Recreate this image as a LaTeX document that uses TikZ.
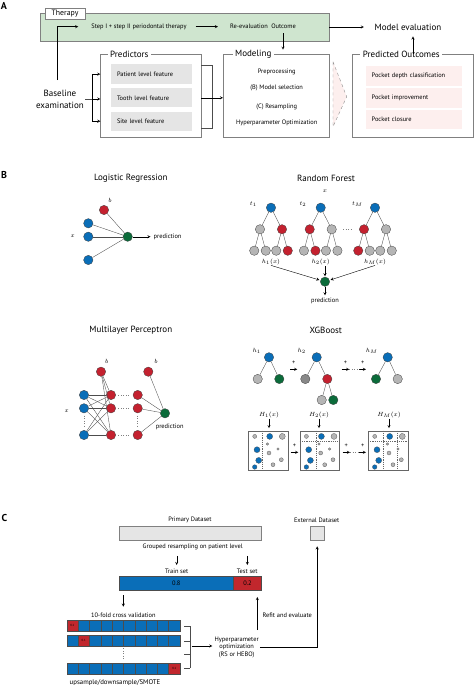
\documentclass[tikz,border=0pt]{standalone}
\usepackage{amsmath}
\usepackage{fontspec}
\setmainfont{PT Sans}
\usepackage{xcolor}
\usepackage{tikz}
\usetikzlibrary{arrows, positioning, fit}
\definecolor{nodeblue}{HTML}{0A6EB8}
\definecolor{nodered}{HTML}{C4212F}
\definecolor{nodegreen}{HTML}{0B6B3A}
\definecolor{nodegray}{HTML}{B5B5B5}
\definecolor{bandgreen}{HTML}{CFE5CF}
\definecolor{featgray}{HTML}{E5E5E5}
\definecolor{outpink}{HTML}{FDEFEE}
\definecolor{linegray}{HTML}{808080}
\definecolor{barblue}{HTML}{0A6EB8}
\definecolor{barred}{HTML}{C1272D}
\newcommand{\fsl}{\fontsize{9}{10}\selectfont}
\newcommand{\fss}{\fontsize{6.4}{7.8}\selectfont}
\newcommand{\fsm}{\fontsize{5.6}{6}\selectfont}
\newcommand{\fst}{\fontsize{3}{3}\selectfont}
\tikzstyle{panel}     = [font=\bfseries\fontsize{10}{10}\selectfont, inner sep=0pt]
\tikzstyle{headline}  = [font=\fsl, inner sep=1pt]
\tikzstyle{smalltext} = [font=\fss, inner sep=1pt]
\tikzstyle{mathlbl}   = [font=\fsm, inner sep=0.5pt]
\tikzstyle{frame}     = [rectangle, draw=linegray, line width=0.6pt, inner sep=0pt]
\tikzstyle{framehead} = [font=\fsl, fill=white, inner sep=2.5pt, anchor=west]
\tikzstyle{feature}   = [rectangle, fill=featgray, minimum width=80.7pt, minimum height=19.3pt, text width=68.7pt, align=left, font=\fss, inner sep=0pt]
\tikzstyle{outcome}   = [rectangle, fill=outpink, minimum width=96pt, minimum height=19.5pt, text width=84pt, align=left, font=\fss, inner sep=0pt]
\tikzstyle{neuron}    = [circle, draw=black!75, line width=0.3pt, minimum size=9.4pt, inner sep=0pt]
\tikzstyle{link}      = [draw=black!70, line width=0.35pt]
\tikzstyle{arrow}     = [line width=0.4pt, ->, >=stealth]
\tikzstyle{dotline}   = [draw=black!50, line width=0.5pt, dotted]
\tikzstyle{xgbox}     = [rectangle, draw=black!60, line width=0.6pt, minimum width=39.5pt, minimum height=39pt, inner sep=0pt]
\tikzstyle{divider}   = [draw=black!60, line width=0.35pt, dash pattern=on 1.2pt off 1pt]
\tikzstyle{databox}   = [rectangle, draw=linegray, fill=featgray, line width=0.6pt, inner sep=0pt]
\tikzstyle{cell}      = [rectangle, draw=black!70, line width=0.35pt, minimum width=11.33pt, minimum height=11.5pt, inner sep=0pt, font=\fst, fill=barblue]
\tikzset{every node/.style={align=center}}
\newcommand{\xgdots}{%
  \foreach \px/\py/\pr/\pc in {6.7/5.7/2/nodegray, 21.7/5.7/3/nodeblue, 34.3/5.7/3/nodegray, 19.3/13.3/1.3/nodegray,
      9/19/3/nodeblue, 21/22.3/2/nodegray, 30/18.3/1.3/nodegray, 10.7/29.7/3/nodeblue,
      33.3/29/2/nodegray, 25/34/2/nodegray, 6.7/36.3/2.3/nodeblue}
    \filldraw[fill=\pc, draw=black!70, line width=0.25pt] (\px,\py) circle (\pr pt);}

\begin{document}
\begin{tikzpicture}[x=1pt, y=-1pt]
    \useasboundingbox (0,0) rectangle (474,685);

    % A
    \node (panA) [panel] at (4,5.5) {A};
    \node (band) [frame, fill=bandgreen, minimum width=288.3pt, minimum height=27.7pt] at (184.85,27.15) {};
    \node (therapy) [frame, fill=white, minimum width=40pt, minimum height=10.7pt, font=\fontsize{7.8}{8}\selectfont] at (65,13.7) {Therapy};
    \node (steps) [smalltext] at (139,26.7) {Step I + step II periodontal therapy};
    \node (reeval) [smalltext] at (263,26.7) {Re-evaluation\ \ Outcome};
    \node (modeleval) [headline] at (408,27) {Model evaluation};
    \node (baseline) [headline, font={\fontsize{9}{12}\selectfont}] at (60,99) {Baseline\\examination};

    \node (predictors) [frame, minimum width=100.3pt, minimum height=83.7pt] at (150.85,95.85) {};
    \node (modeling) [frame, minimum width=106pt, minimum height=83.7pt] at (276.3,95.85) {};
    \node (outcomes) [frame, minimum width=120.6pt, minimum height=83.7pt] at (413,95.85) {};
    \node (predhead) [framehead] at (107.5,54) {Predictors};
    \node (modhead) [framehead] at (232.5,54) {Modeling};
    \node (outhead) [framehead] at (360.2,54) {Predicted Outcomes};

    \node (patient) [feature] at (151.35,74.15) {Patient level feature};
    \node (tooth) [feature] at (151.35,97.8) {Tooth level feature};
    \node (site) [feature] at (151.35,121.2) {Site level feature};

    \node (prep) [smalltext] at (276.7,72.3) {Preprocessing};
    \node (msel) [smalltext] at (276.7,87.7) {(B) Model selection};
    \node (resamp) [smalltext] at (276.7,107.3) {(C) Resampling};
    \node (hpo) [smalltext] at (276.7,123.3) {Hyperparameter Optimization};

    \draw[draw=black!45, dashed, fill=outpink, line width=0.4pt] (333,61.7) -- (346.7,96.7) -- (333,126.7) -- cycle;

    \node (depth) [outcome] at (413.7,76) {Pocket depth classification};
    \node (improve) [outcome] at (413.7,97.8) {Pocket improvement};
    \node (closure) [outcome] at (413.7,119.7) {Pocket closure};

    \coordinate (blup) at (57.3,80);
    \coordinate (fork) at (92,99);
    \draw [arrow] (blup) |- ([xshift=-12pt]steps.west);
    \draw [arrow, shorten <=8pt, shorten >=11pt] (steps.east) -- (reeval.west);
    \draw [arrow, shorten >=9.5pt] (band.east |- modeleval) -- (modeleval.west);
    \draw [arrow, shorten >=5pt] (outcomes.north) -- (outcomes.north |- modeleval.south);
    \draw [arrow, shorten <=3pt, shorten >=4pt] ([xshift=20pt]reeval.south) -- ([xshift=6.7pt]modeling.north);
    \draw [link] (baseline.east |- fork) -- (fork);
    \draw [arrow] (fork) -- (predictors.west |- fork);
    \draw [arrow] (fork) |- (predictors.west |- patient);
    \draw [arrow] (fork) |- (predictors.west |- site);
    \draw [link] (201,65) -| (212,128) -- (201,128);
    \draw [arrow] (predictors.east |- tooth) -- (modeling.west |- tooth);

    % B
    \node (panB) [panel] at (4,175) {B};
    \node (lrtitle) [headline] at (130.8,178.3) {Logistic Regression};
    \node (rftitle) [headline] at (326,178.3) {Random Forest};
    \node (mlptitle) [headline] at (130.8,330) {Multilayer Perceptron};
    \node (xgbtitle) [headline] at (325.8,330) {XGBoost};

    \node (lrb) [neuron, fill=nodered] at (104,210) {};
    \node (lrx1) [neuron, fill=nodeblue] at (88.3,223.3) {};
    \node (lrx2) [neuron, fill=nodeblue] at (88.3,236.7) {};
    \node (lrx3) [neuron, fill=nodeblue] at (88.3,260) {};
    \node (lrout) [neuron, fill=nodegreen] at (127.7,236.7) {};
    \node (lrbl) [mathlbl] at (110,200.7) {$b$};
    \node (lrxl) [mathlbl] at (72.7,236.7) {$x$};
    \node (lrpred) [smalltext, anchor=west] at (152.5,236.7) {prediction};
    \foreach \n in {lrb,lrx1,lrx2,lrx3}
        \draw [link] (\n) -- (lrout);
    \draw [arrow, shorten >=2pt] (lrout) -- (lrpred.west);

    \node (rfx) [mathlbl] at (325,191.7) {$x$};
    \foreach \i/\rx/\ta/\tb/\la/\lb/\lc/\ld in {1/271/nodegray/nodered/nodegray/nodegray/nodegray/nodered,
            2/320.7/nodered/nodegray/nodegray/nodered/nodegray/nodegray,
            M/375/nodered/nodegray/nodered/nodegray/nodegray/nodegray} {
        \node (rf\i) [neuron, fill=nodeblue] at (\rx,207.7) {};
        \node (rf\i-l) [neuron, fill=\ta] at (\rx-11,229.3) {};
        \node (rf\i-r) [neuron, fill=\tb] at (\rx+11,229.3) {};
        \node (rf\i-a) [neuron, fill=\la] at (\rx-16.75,250.7) {};
        \node (rf\i-b) [neuron, fill=\lb] at (\rx-5.25,250.7) {};
        \node (rf\i-c) [neuron, fill=\lc] at (\rx+5.25,250.7) {};
        \node (rf\i-d) [neuron, fill=\ld] at (\rx+16.75,250.7) {};
        \draw [link] (rf\i) -- (rf\i-l);
        \draw [link] (rf\i) -- (rf\i-r);
        \draw [link] (rf\i-l) -- (rf\i-a);
        \draw [link] (rf\i-l) -- (rf\i-b);
        \draw [link] (rf\i-r) -- (rf\i-c);
        \draw [link] (rf\i-r) -- (rf\i-d);
        \node (rft\i) [mathlbl] at (\rx-17.7,204.3) {$t_{\i}$};
        \node (rfh\i) [mathlbl] at (\rx,261.7) {$h_{\i}(x)$};
    }
    \draw [dotline, shorten <=6.5pt, shorten >=6.5pt] (rf2-r) -- (rfM-l);
    \node (rfout) [neuron, fill=nodegreen] at (325,281.7) {};
    \node (rfpred) [smalltext] at (325,300.5) {prediction};
    \draw [arrow, shorten >=1pt] (rfh1.south) -- (rfout);
    \draw [arrow, shorten >=1pt] (rfhM.south) -- (rfout);
    \draw [arrow, shorten <=1pt, shorten >=0.5pt] (rfh2.south -| rfout) -- (rfout);
    \draw [arrow, shorten >=1pt] (rfout) -- (rfpred);

    \foreach \k/\yy in {1/395, 2/408.3, 3/435} {
        \node (mi\k) [neuron, fill=nodeblue] at (84,\yy) {};
        \node (mh\k) [neuron, fill=nodered] at (111,\yy) {};
        \node (mk\k) [neuron, fill=nodered] at (137.7,\yy) {};
    }
    \node (mb1) [neuron, fill=nodered] at (101,371.7) {};
    \node (mb2) [neuron, fill=nodered] at (148.3,371.7) {};
    \node (mo) [neuron, fill=nodegreen] at (165,413.3) {};
    \node (mbl1) [mathlbl] at (106.7,361.7) {$b$};
    \node (mbl2) [mathlbl] at (156,361.7) {$b$};
    \node (mxl) [mathlbl] at (66.7,411.7) {$x$};
    \node (mpred) [smalltext] at (169.7,426.7) {prediction};
    \foreach \a in {1,2,3}
        \foreach \b in {1,2,3}
            \draw [link] (mi\a) -- (mh\b);
    \foreach \b in {1,2,3} {
        \draw [link] (mb1) -- (mh\b);
        \draw [link] (mk\b) -- (mo);
        \draw [dotline, shorten <=2.5pt, shorten >=2.5pt] (mh\b) -- (mk\b);
    }
    \draw [link] (mb2) -- (mo);
    \draw [dotline, shorten <=2.5pt, shorten >=2.5pt] (mi2) -- (mi3);
    \draw [dotline, shorten <=2.5pt, shorten >=2.5pt] (mk2) -- (mk3);

    \node (xa) [neuron, fill=nodeblue] at (269,357.3) {};
    \node (xa-l) [neuron, fill=nodegray] at (257.7,379) {};
    \node (xa-r) [neuron, fill=nodegreen] at (279.3,379) {};
    \node (xb) [neuron, fill=nodeblue] at (316.7,357.3) {};
    \node (xb-l) [neuron, fill=nodegray!75!black] at (305.3,379) {};
    \node (xb-r) [neuron, fill=nodered] at (327.3,379) {};
    \node (xb-rl) [neuron, fill=nodegray] at (321.7,400) {};
    \node (xb-rr) [neuron, fill=nodegreen] at (333.3,400) {};
    \node (xm) [neuron, fill=nodeblue] at (387.7,357.3) {};
    \node (xm-l) [neuron, fill=nodegreen] at (376,379) {};
    \node (xm-r) [neuron, fill=nodegray] at (397.7,379) {};
    \foreach \a/\b in {xa/xa-l, xa/xa-r, xb/xb-l, xb/xb-r, xb-r/xb-rl, xb-r/xb-rr, xm/xm-l, xm/xm-r}
        \draw [link] (\a) -- (\b);
    \node (xhl1) [mathlbl] at (256.7,350.7) {$h_1$};
    \node (xhl2) [mathlbl] at (301.7,350.7) {$h_2$};
    \node (xhlM) [mathlbl] at (371.7,350.7) {$h_M$};

    \node (bx1) [xgbox] at (268.05,450.5) {};
    \node (bx2) [xgbox] at (319.75,450.5) {};
    \node (bxM) [xgbox] at (388.05,450.5) {};
    \begin{scope}[shift={(bx1.north west)}]
        \draw [divider] (14.4,0) -- (14.4,39);
        \xgdots
    \end{scope}
    \begin{scope}[shift={(bx2.north west)}]
        \draw [divider] (16,0) -- (16,39);
        \draw [divider] (0,10.7) -- (39.5,10.7);
        \xgdots
    \end{scope}
    \begin{scope}[shift={(bxM.north west)}]
        \draw [divider] (15,0) -- (15,39);
        \draw [divider] (29,0) -- (29,39);
        \draw [divider] (0,10.7) -- (39.5,10.7);
        \xgdots
    \end{scope}
    \foreach \b/\hx/\hi in {bx1/269/1, bx2/319/2, bxM/389/M} {
        \node (H\hi) [mathlbl] at (\hx,415) {$H_{\hi}(x)$};
        \draw [arrow, shorten >=2.5pt] (H\hi) -- (H\hi |- \b.north);
    }
    \foreach \n/\ax/\bx/\yy in {1/290/297.3/369.3, 2/341.7/349.3/369.3, 3/359.3/366/369.3,
            4/290.7/298.3/452.3, 5/342.7/350/452.3, 6/359.3/366/452.3} {
        \coordinate (xs\n) at (\ax,\yy);
        \coordinate (xe\n) at (\bx,\yy);
        \draw [arrow] (xs\n) -- (xe\n);
        \node (xp\n) [smalltext] at ({(\ax+\bx)/2},\yy-6.8) {+};
    }
    \draw [dotline, line width=0.4pt] (xe2) -- (xs3);
    \draw [dotline, line width=0.4pt] (xe5) -- (xs6);

    % C
    \node (panC) [panel] at (4.5,518.3) {C};
    \node (primlbl) [smalltext] at (190,520) {Primary Dataset};
    \node (primary) [databox, minimum width=142.4pt, minimum height=14pt] at (190.5,533) {};
    \node (grouped) [smalltext] at (192.7,547.3) {Grouped resampling on patient level};
    \node (extlbl) [smalltext] at (316.7,520) {External Dataset};
    \node (external) [databox, minimum width=14.3pt, minimum height=14pt] at (317.2,533) {};
    \node (trainlbl) [smalltext] at (176.7,571) {Train set};
    \node (testlbl) [smalltext] at (247.3,571) {Test set};
    \node (train) [rectangle, draw=black!70, fill=barblue, line width=0.5pt, minimum width=114pt, minimum height=14.7pt, inner sep=0pt, font=\fss] at (176.3,583.35) {0.8};
    \node (test) [rectangle, draw=black!70, fill=barred, line width=0.5pt, minimum width=28.4pt, minimum height=14.7pt, inner sep=0pt, font=\fss] at (247.5,583.35) {0.2};
    \draw [arrow, shorten <=4.5pt, shorten >=2.5pt] (grouped.south -| trainlbl) -- (trainlbl.north);
    \draw [arrow, shorten <=4.5pt, shorten >=2.5pt] (grouped.south -| testlbl) -- (testlbl.north);
    \node (cvlbl) [smalltext] at (123.3,615.7) {10-fold cross validation};
    \draw [arrow, shorten <=4.3pt, shorten >=5.5pt] (train.south -| cvlbl) -- (cvlbl.north);

    \foreach \r/\yy/\red in {1/625.8/1, 2/640.5/2, 3/668.5/10} {
        \foreach \c in {1,...,10} {
            \ifnum\c=\red
                \node (fold\r-\c) [cell, fill=barred] at ({66.7+(\c-0.5)*11.33},\yy) {0.1};
            \else
                \node (fold\r-\c) [cell] at ({66.7+(\c-0.5)*11.33},\yy) {};
            \fi
        }
    }
    \draw [dotline, shorten <=2pt, shorten >=2pt] (fold2-5.south east) -- (fold3-5.north east);
    \foreach \yy in {626,640.7,654,668.3}
        \draw [link] (184.3,\yy) -- (190,\yy);
    \draw [link] (190,626) -- (190,668.3);

    \node (hyper) [smalltext] at (236.7,647.3) {Hyperparameter\\optimization\\(RS or HEBO)};
    \coordinate (cvjoin) at (190,646);
    \coordinate (refit) at (257.3,630);
    \draw [arrow, shorten <=1.5pt, shorten >=1pt] (cvjoin) -- (cvjoin -| hyper.west);
    \draw [arrow, shorten >=6pt] (hyper.east) -| (external.south);
    \draw [arrow, shorten >=6pt] (refit) -- (refit |- test.south);
    \node (refitlbl) [smalltext] at (287.3,615.7) {Refit and evaluate};
    \node (smote) [smalltext, font=\fontsize{6.8}{7}\selectfont] at (115,682.7) {upsample/downsample/SMOTE};
\end{tikzpicture}
\end{document}
